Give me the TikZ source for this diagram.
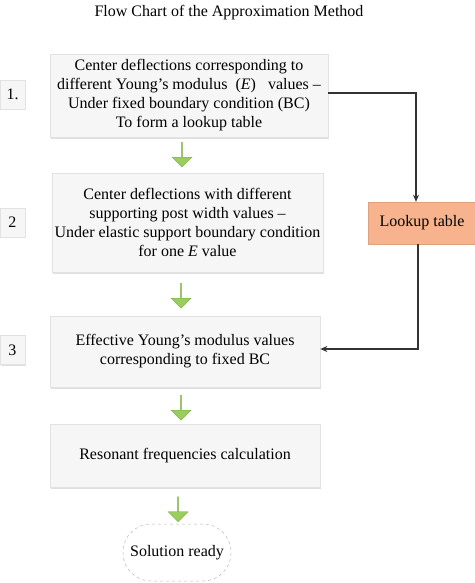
\documentclass[tikz,border=0pt]{standalone}
\usepackage{fontspec}
\setmainfont{Liberation Serif}
\usetikzlibrary{shapes.arrows,shadows,calc,arrows.meta}
\definecolor{boxfill}{HTML}{F6F6F6}
\definecolor{boxline}{HTML}{E2E2E2}
\definecolor{salmon}{HTML}{F6B38D}
\definecolor{grn}{HTML}{9ACD5C}
\definecolor{grnline}{HTML}{7DAF45}
\definecolor{conn}{HTML}{333333}
\tikzset{
  every node/.style={font=\fontsize{16}{19}\selectfont, inner sep=0pt},
  stepbox/.style={rectangle, fill=boxfill, draw=boxline, line width=0.6pt, align=center,
    drop shadow={shadow xshift=1pt, shadow yshift=-1.5pt, opacity=0.25, fill=gray}},
  labelbox/.style={rectangle, fill=boxfill, draw=boxline, line width=0.5pt, minimum width=25pt, minimum height=29pt,
    drop shadow={shadow xshift=0.6pt, shadow yshift=-1.2pt, opacity=0.25, fill=gray}},
  greenarrow/.style={single arrow, shape border rotate=270, fill=grn, draw=grnline, line width=0.4pt,
    minimum height=25pt, minimum width=20pt, single arrow head extend=4.5pt, inner sep=0pt},
  link/.style={draw=conn, line width=1.2pt, -{Stealth[length=7pt,width=6pt]}},
}
\begin{document}
\begin{tikzpicture}[x=1pt,y=-1pt]
\useasboundingbox (0,0) rectangle (474,583);
\node (title) at (229,13) {Flow Chart of the Approximation Method};

\node[stepbox, minimum width=278pt, minimum height=83pt] (b1) at (189,95.5)
  {Center deflections corresponding to\\ different Young’s modulus~ (\textit{E})~~ values –\\ Under fixed boundary condition (BC)\\ To form a lookup table};
\node[stepbox, minimum width=271pt, minimum height=99pt] (b2) at (187.5,222.5)
  {Center deflections with different\\ supporting post width values –\\ Under elastic support boundary condition\\ for one \textit{E} value};
\node[stepbox, minimum width=270pt, minimum height=71pt] (b3) at (185,351.5)
  {Effective Young’s modulus values\\ corresponding to fixed BC};
\node[stepbox, minimum width=270pt, minimum height=63pt] (b4) at (185,455.5)
  {Resonant frequencies calculation};
\node[rectangle, rounded corners=28pt, fill=white, draw=gray!55, dashed, line width=0.5pt,
  minimum width=108pt, minimum height=57pt] (sol) at (177,552.5) {Solution ready};

\node[rectangle, fill=salmon, draw=salmon!90!black, line width=0.4pt, minimum width=108pt, minimum height=42pt] (lut) at (422,223) {Lookup table};

\node[labelbox] (l1) at (12.5,94.5) {1.};
\node[labelbox] (l2) at (12.5,222.5) {2};
\node[labelbox] (l3) at (12.5,350) {3};

\node[greenarrow] (a1) at (182,154.5) {};
\node[greenarrow] (a2) at (181,295.5) {};
\node[greenarrow] (a3) at (181,407.5) {};
\node[greenarrow] (a4) at (178,509) {};

\coordinate (c1) at (416,93);
\coordinate (c2) at (418,349);
\draw[link] (b1.east |- c1) -- (c1) -- (c1 |- lut.north);
\draw[link] (c2 |- lut.south) -- (c2) -- (b3.east |- c2);
\end{tikzpicture}
\end{document}
